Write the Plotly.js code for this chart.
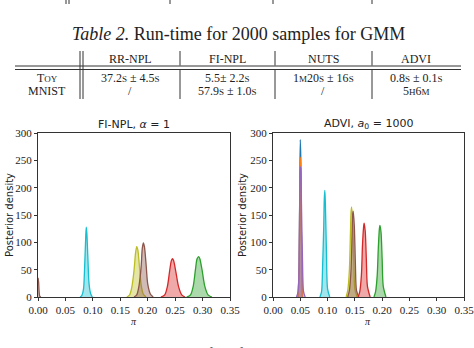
<!DOCTYPE html>
<html><head><meta charset="utf-8">
<script src="https://cdn.plot.ly/plotly-3.0.1.min.js"></script>
<style>html,body{margin:0;padding:0;background:#fff}#chart{width:474px;height:348px}</style>
</head><body><div id="chart"></div>
<script>
// ---- data: table ----
const tableTitle = "<i>Table 2.</i> Run-time for 2000 samples for GMM";
const columns = ["RR-NPL", "FI-NPL", "NUTS", "ADVI"];
const rowLabels = ["T<span style='font-size:9px'>OY</span>", "MNIST"];
const sc = s => "<span style='font-size:9px'>" + s + "</span>";
const rowToy = ["37.2" + sc("S") + " ± 4.5" + sc("S"), "5.5± 2.2" + sc("S"), "1" + sc("M") + "20" + sc("S") + " ± 16" + sc("S"), "0.8" + sc("S") + " ± 0.1" + sc("S")];
const rowMnist = ["/", "57.9" + sc("S") + " ± 1.0" + sc("S"), "/", "5" + sc("H") + "6" + sc("M")];

// ---- data: KDE curves, FI-NPL alpha=1 ----
const L_spike_x = [0, 0.001, 0.002, 0.003, 0.005];
const L_spike_y = [35, 28, 10, 2, 0];
const L_cyan_x = [0.077, 0.080, 0.083, 0.085, 0.087, 0.088, 0.089, 0.091, 0.093, 0.096, 0.099];
const L_cyan_y = [0, 3, 15, 55, 110, 128, 118, 70, 25, 6, 0];
const L_olive_x = [0.162, 0.167, 0.171, 0.175, 0.178, 0.180, 0.182, 0.185, 0.188, 0.192, 0.197];
const L_olive_y = [0, 4, 18, 48, 82, 92, 86, 55, 22, 5, 0];
const L_brown_x = [0.175, 0.180, 0.184, 0.188, 0.190, 0.192, 0.194, 0.197, 0.200, 0.205, 0.210];
const L_brown_y = [0, 4, 20, 55, 88, 99, 92, 60, 24, 5, 0];
const L_red_x = [0.224, 0.231, 0.236, 0.240, 0.243, 0.245, 0.247, 0.251, 0.256, 0.262, 0.268];
const L_red_y = [0, 4, 20, 48, 66, 70, 67, 48, 20, 4, 0];
const L_green_x = [0.271, 0.278, 0.283, 0.287, 0.290, 0.293, 0.295, 0.299, 0.304, 0.310, 0.317];
const L_green_y = [0, 4, 20, 50, 70, 74, 70, 50, 20, 4, 0];

// ---- data: KDE curves, ADVI a0=1000 ----
const R_purple_x = [0.043, 0.046, 0.048, 0.049, 0.050, 0.051, 0.052, 0.054, 0.056, 0.059];
const R_purple_y = [0, 10, 90, 190, 238, 235, 180, 70, 10, 0];
const R_orange_x = [0.046, 0.048, 0.049, 0.050, 0.051, 0.052, 0.054];
const R_orange_y = [0, 60, 190, 256, 230, 110, 0];
const R_blue_x = [0.046, 0.048, 0.049, 0.050, 0.051, 0.052, 0.054];
const R_blue_y = [0, 60, 200, 288, 250, 120, 0];
const R_cyan_x = [0.086, 0.089, 0.091, 0.093, 0.094, 0.095, 0.096, 0.098, 0.100, 0.104];
const R_cyan_y = [0, 10, 60, 130, 180, 195, 170, 80, 15, 0];
const R_olive_x = [0.134, 0.137, 0.140, 0.142, 0.143, 0.144, 0.146, 0.148, 0.150, 0.154];
const R_olive_y = [0, 12, 50, 120, 155, 165, 140, 70, 15, 0];
const R_brown_x = [0.137, 0.140, 0.143, 0.145, 0.146, 0.147, 0.149, 0.151, 0.153, 0.157];
const R_brown_y = [0, 12, 50, 115, 150, 157, 130, 60, 12, 0];
const R_red_x = [0.156, 0.159, 0.162, 0.164, 0.166, 0.167, 0.169, 0.171, 0.173, 0.178];
const R_red_y = [0, 10, 40, 95, 128, 135, 120, 70, 20, 0];
const R_green_x = [0.185, 0.188, 0.191, 0.193, 0.195, 0.196, 0.198, 0.200, 0.202, 0.207];
const R_green_y = [0, 10, 40, 90, 125, 131, 118, 70, 20, 0];

const xTicks = [0, 0.05, 0.10, 0.15, 0.20, 0.25, 0.30, 0.35];
const xTickText = ["0.00", "0.05", "0.10", "0.15", "0.20", "0.25", "0.30", "0.35"];
const yTicks = [0, 50, 100, 150, 200, 250, 300];

// ---- helpers ----
const W = 474, H = 348;
const px = v => v / W, py = v => 1 - v / H;
const C = {
  blue: "31,119,180", orange: "255,127,14", green: "44,160,44", red: "214,39,40",
  purple: "148,103,189", brown: "140,86,75", grey: "127,127,127", olive: "188,189,34", cyan: "23,190,207"
};
function kde(x, y, col, ax) {
  return {
    x: x, y: y, xaxis: ax === 2 ? "x2" : "x", yaxis: ax === 2 ? "y2" : "y",
    type: "scatter", mode: "lines", fill: "tozeroy",
    fillcolor: "rgba(" + col + ",0.4)",
    line: { color: "rgb(" + col + ")", width: 1.3, shape: "spline", smoothing: 0.8 },
    hoverinfo: "skip", showlegend: false
  };
}
const traces = [
  kde(L_spike_x, L_spike_y, C.brown, 1),
  kde(L_cyan_x, L_cyan_y, C.cyan, 1),
  kde(L_olive_x, L_olive_y, C.olive, 1),
  kde(L_brown_x, L_brown_y, C.brown, 1),
  kde(L_red_x, L_red_y, C.red, 1),
  kde(L_green_x, L_green_y, C.green, 1),
  kde(R_blue_x, R_blue_y, C.blue, 2),
  kde(R_orange_x, R_orange_y, C.orange, 2),
  kde(R_purple_x, R_purple_y, C.purple, 2),
  kde(R_cyan_x, R_cyan_y, C.cyan, 2),
  kde(R_olive_x, R_olive_y, C.olive, 2),
  kde(R_brown_x, R_brown_y, C.brown, 2),
  kde(R_red_x, R_red_y, C.red, 2),
  kde(R_green_x, R_green_y, C.green, 2)
];

const tickFont = { family: "Liberation Serif, serif", size: 11, color: "#222" };
function xa(dom) {
  return {
    domain: dom, range: [0, 0.35], tickvals: xTicks, ticktext: xTickText,
    ticks: "outside", ticklen: 3, tickwidth: 1, tickcolor: "#333",
    showgrid: false, zeroline: false, showline: true, mirror: true,
    linecolor: "#333", linewidth: 1, tickfont: tickFont, fixedrange: true,
    ticklabeloverflow: "allow", automargin: false
  };
}
function ya(dom) {
  return {
    domain: dom, range: [0, 300], tickvals: yTicks,
    ticks: "outside", ticklen: 3, tickwidth: 1, tickcolor: "#333",
    showgrid: false, zeroline: false, showline: true, mirror: true,
    linecolor: "#333", linewidth: 1, tickfont: tickFont, fixedrange: true,
    ticklabeloverflow: "allow", automargin: false
  };
}
const yDom = [py(297), py(133)];

const serif = "Liberation Serif, Times New Roman, serif";
const ann = [];
function txt(x, y, text, size, opts) {
  ann.push(Object.assign({
    xref: "paper", yref: "paper", x: px(x), y: py(y), text: text, showarrow: false,
    xanchor: "center", yanchor: "middle",
    font: { family: serif, size: size, color: "#222" }
  }, opts || {}));
}
// table
txt(239, 34, tableTitle, 18);
const colX = [130, 227, 323, 416];
columns.forEach((c, i) => txt(colX[i], 59, c, 12));
txt(47, 78, rowLabels[0], 12);
txt(47, 91, rowLabels[1], 12);
rowToy.forEach((c, i) => txt(colX[i], 78, c, 12));
rowMnist.forEach((c, i) => txt(colX[i], 91, c, 12));
// subplot titles
const sans = "DejaVu Sans, sans-serif";
txt(134, 124, "FI-NPL, <i>α</i> = 1", 11, { font: { family: sans, size: 11, color: "#222" } });
txt(368, 124, "ADVI, <i>a</i><sub>0</sub> = 1000", 11, { font: { family: sans, size: 11, color: "#222" } });
// axis titles
txt(9, 215, "Posterior density", 10, { textangle: -90, font: { family: sans, size: 10, color: "#222" } });
txt(242, 215, "Posterior density", 10, { textangle: -90, font: { family: sans, size: 10, color: "#222" } });
txt(134, 321, "<i>π</i>", 10);
txt(368, 321, "<i>π</i>", 10);
// caption (cut off at the bottom edge, as in the reference)
ann.push({ xref: "paper", yref: "paper", x: px(4), y: py(344), xanchor: "left", yanchor: "top",
  text: "<b>Figure 3.</b> Posterior marginal KDEs for <i>π</i> for <i>K</i> = 10 GMM", showarrow: false,
  font: { family: serif, size: 14, color: "#222" } });

const shapes = [];
function ln(x0, y0, x1, y1, w) {
  shapes.push({ type: "line", xref: "paper", yref: "paper", x0: px(x0), y0: py(y0), x1: px(x1), y1: py(y1),
    line: { color: "#333", width: w || 1 } });
}
// table rules
ln(15, 66, 461, 66, 1);
ln(15, 69.5, 461, 69.5, 1);
ln(80, 51, 80, 99); ln(83, 51, 83, 99);
[180, 275, 372].forEach(x => { ln(x, 51, x, 65.5); ln(x, 70, x, 99); });
// sliver of rules from previous table at the very top
ln(66, 0, 66, 4); ln(69, 0, 69, 4);
[170, 273, 372].forEach(x => ln(x, 0, x, 4));

const layout = {
  width: W, height: H, autosize: false,
  margin: { l: 0, r: 0, t: 0, b: 0, pad: 0 },
  paper_bgcolor: "#fff", plot_bgcolor: "#fff",
  showlegend: false,
  xaxis: Object.assign(xa([px(38), px(230)]), { anchor: "y" }),
  yaxis: Object.assign(ya(yDom), { anchor: "x" }),
  xaxis2: Object.assign(xa([px(273), px(464)]), { anchor: "y2" }),
  yaxis2: Object.assign(ya(yDom), { anchor: "x2" }),
  annotations: ann, shapes: shapes
};
Plotly.newPlot("chart", traces, layout, { displayModeBar: false, staticPlot: true });
</script></body></html>
